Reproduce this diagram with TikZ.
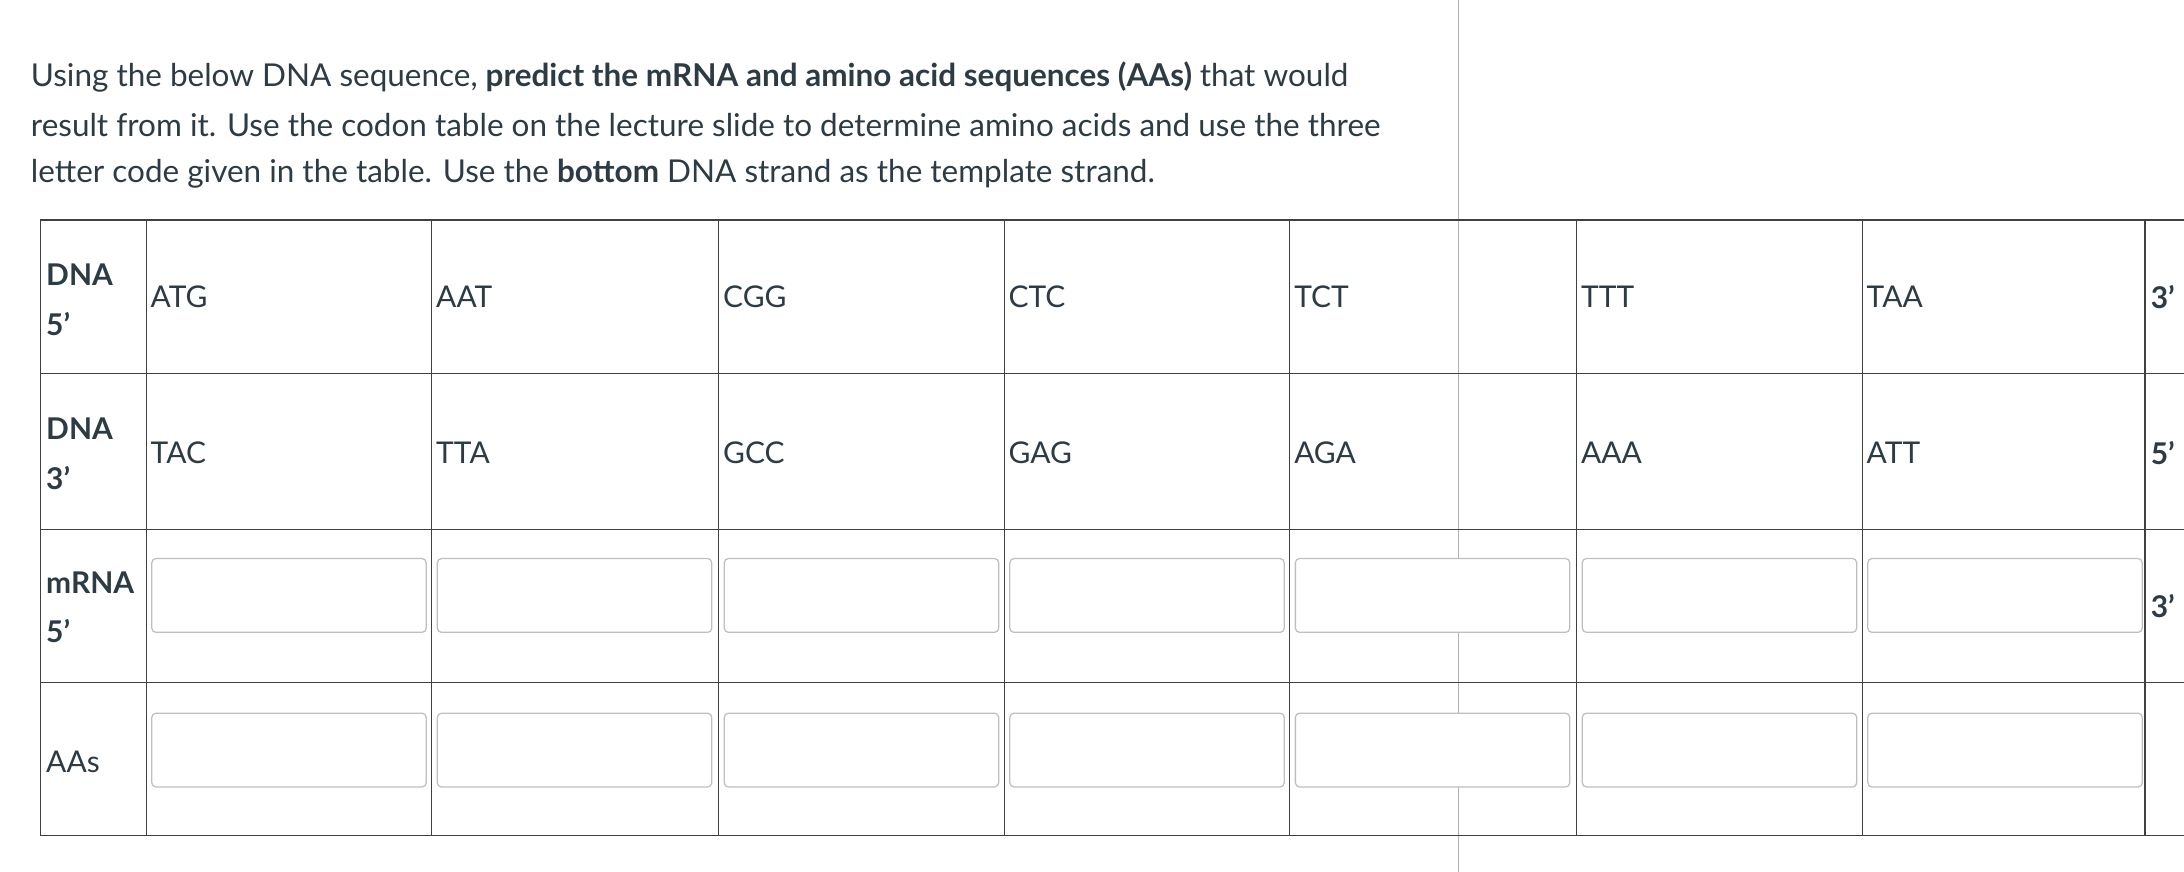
\documentclass[tikz,border=0pt]{standalone}
\usepackage{fontspec}
\setmainfont{Lato}
\definecolor{ink}{HTML}{2D3B45}
\begin{document}
\begin{tikzpicture}[x=1pt,y=-1pt,
  para/.style={anchor=west,inner sep=0,text=ink,font=\fontsize{22.6}{22.6}\selectfont},
  txt/.style={anchor=west,inner sep=0,text=ink,font=\fontsize{21.5}{21.5}\selectfont},
  lab/.style={anchor=west,inner sep=0,text=ink,font=\fontsize{21.5}{21.5}\selectfont\bfseries},
  grid/.style={draw=black!75,line width=0.9pt},
  inbox/.style={draw=black!25,line width=0.9pt,rounded corners=3pt,fill=white}]
\useasboundingbox (0,0) rectangle (1568,626);
\draw[black!30,line width=1pt] (1047,0) -- (1047,626);
\node[para] (l1) at (22,55) {Using the below DNA sequence, \textbf{predict the mRNA and amino acid sequences (AAs)} that would};
\node[para] (l2) at (22,90) {result from it. Use the codon table on the lecture slide to determine amino acids and use the three};
\node[para] (l3) at (22,125) {letter code given in the table. Use the \textbf{bottom} DNA strand as the template strand.};
\def\cols{29,105,310,516,721,926,1132,1337,1540}
\foreach \y in {158,268,380,490,600} \draw[grid] (29,\y) -- (1568,\y);
\foreach \x in \cols \draw[grid] (\x,158) -- (\x,600);
% row labels
\node[lab] (d1a) at (33,197) {DNA}; \node[lab] (d1b) at (33,233) {5’};
\node[lab] (d2a) at (33,308) {DNA}; \node[lab] (d2b) at (33,343) {3’};
\node[lab] (m1) at (33,418) {mRNA}; \node[lab] (m2) at (33,453) {5'};
\node[txt] (aa) at (33,547) {AAs};
\foreach \c [count=\i] in {ATG,AAT,CGG,CTC,TCT,TTT,TAA}{
  \pgfmathsetmacro\xx{{105,310,516,721,926,1132,1337}[\i-1]}
  \node[txt] (t\i) at (\xx+3,213) {\c};}
\foreach \c [count=\i] in {TAC,TTA,GCC,GAG,AGA,AAA,ATT}{
  \pgfmathsetmacro\xx{{105,310,516,721,926,1132,1337}[\i-1]}
  \node[txt] (b\i) at (\xx+3,325) {\c};}
\foreach \xx in {105,310,516,721,926,1132,1337}{
  \draw[inbox] (\xx+4,401) rectangle (\xx+201,454);
  \draw[inbox] (\xx+4,512) rectangle (\xx+201,565);}
\node[lab] (r1) at (1544,213) {3’};
\node[lab] (r2) at (1544,325) {5’};
\node[lab] (r3) at (1544,435) {3'};
\end{tikzpicture}
\end{document}
